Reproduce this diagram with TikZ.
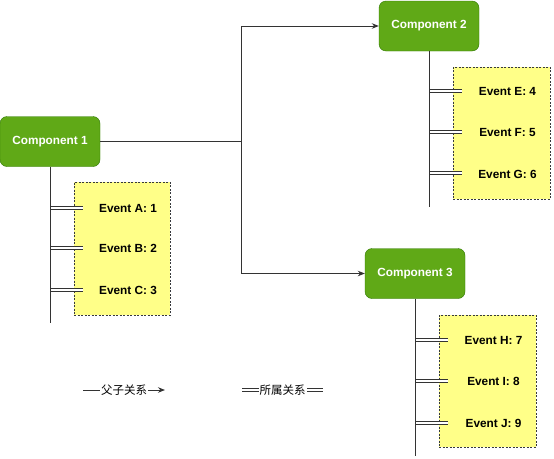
\documentclass[tikz,border=0pt]{standalone}
\usepackage{fontspec}
\setmainfont{Liberation Sans}
\newfontfamily\cjk{Noto Sans CJK SC}
\usetikzlibrary{arrows.meta}
\definecolor{compfill}{HTML}{60A917}
\definecolor{compdraw}{HTML}{2D7600}
\definecolor{evfill}{HTML}{FFFF88}
\definecolor{evdraw}{HTML}{36393D}
\definecolor{ln}{HTML}{333333}
\tikzset{
  comp/.style={draw=compdraw, fill=compfill, rounded corners=7pt, minimum width=100pt, minimum height=50pt, inner sep=0pt, text=white, font=\fontsize{11.8}{13}\selectfont\bfseries},
  evbox/.style={draw=evdraw, fill=evfill, dashed, dash pattern=on 2pt off 1.5pt, line width=0.6pt, inner sep=0pt},
  evtext/.style={font=\fontsize{11.8}{13}\selectfont\bfseries, inner sep=1pt},
  plain/.style={draw=ln, line width=1pt},
  link/.style={draw=ln, double=white, double distance=2.2pt, line width=0.8pt},
  arr/.style={plain, -{Stealth[length=7pt,width=5.5pt]}},
  lbl/.style={font=\cjk\fontsize{11.5}{13}\selectfont, fill=white, inner sep=1pt},
}
\begin{document}
\begin{tikzpicture}[x=1pt,y=-1pt]
\useasboundingbox (0,0) rectangle (554,458);
% components
\node[comp] (c1) at (50,141.5) {Component 1};
\node[comp] (c2) at (429,26) {Component 2};
\node[comp] (c3) at (415,273.5) {Component 3};
% event boxes
\node[evbox, minimum width=96pt, minimum height=133pt] (b1) at (122,248.5) {};
\node[evbox, minimum width=97pt, minimum height=132pt] (b2) at (501.5,133) {};
\node[evbox, minimum width=97pt, minimum height=132pt] (b3) at (487.5,381) {};
% event texts
\node[evtext] (ea) at (128,208) {Event A: 1};
\node[evtext] (eb) at (128,248) {Event B: 2};
\node[evtext] (ec) at (128,290.5) {Event C: 3};
\node[evtext] (ee) at (507.5,91.5) {Event E: 4};
\node[evtext] (ef) at (507.5,132.5) {Event F: 5};
\node[evtext] (eg) at (507.5,174) {Event G: 6};
\node[evtext] (eh) at (493.5,340.5) {Event H: 7};
\node[evtext] (ei) at (493.5,381.5) {Event I: 8};
\node[evtext] (ej) at (493.5,423) {Event J: 9};
% link lines
\foreach \n/\y in {a/208,b/248,c/290}{
  \coordinate (s\n) at (50,\y); \coordinate (t\n) at (83,\y);
  \draw[link] (s\n) -- (t\n);}
\foreach \n/\y in {e/91,f/132,g/173}{
  \coordinate (s\n) at (429,\y); \coordinate (t\n) at (462,\y);
  \draw[link] (s\n) -- (t\n);}
\foreach \n/\y in {h/340,i/381,j/423}{
  \coordinate (s\n) at (415,\y); \coordinate (t\n) at (448,\y);
  \draw[link] (s\n) -- (t\n);}
% vertical lines
\coordinate (v1) at (50,323);
\coordinate (v2) at (429,207);
\coordinate (v3) at (415,456);
\draw[plain] (c1.south) -- (v1);
\draw[plain] (c2.south) -- (v2);
\draw[plain] (c3.south) -- (v3);
% parent-child connectors
\coordinate (jn) at (241,141.5);
\draw[plain] (c1.east) -- (jn);
\draw[arr] (jn) |- (c2.west);
\draw[arr] (jn) |- (c3.west);
% legend
\coordinate (l1a) at (83,390);
\coordinate (l1b) at (165,390);
\coordinate (l2a) at (242,390);
\coordinate (l2b) at (323,390);
\draw[arr] (l1a) -- node[lbl] (lg1) {父子关系} (l1b);
\draw[link] (l2a) -- node[lbl] (lg2) {所属关系} (l2b);
\end{tikzpicture}
\end{document}
